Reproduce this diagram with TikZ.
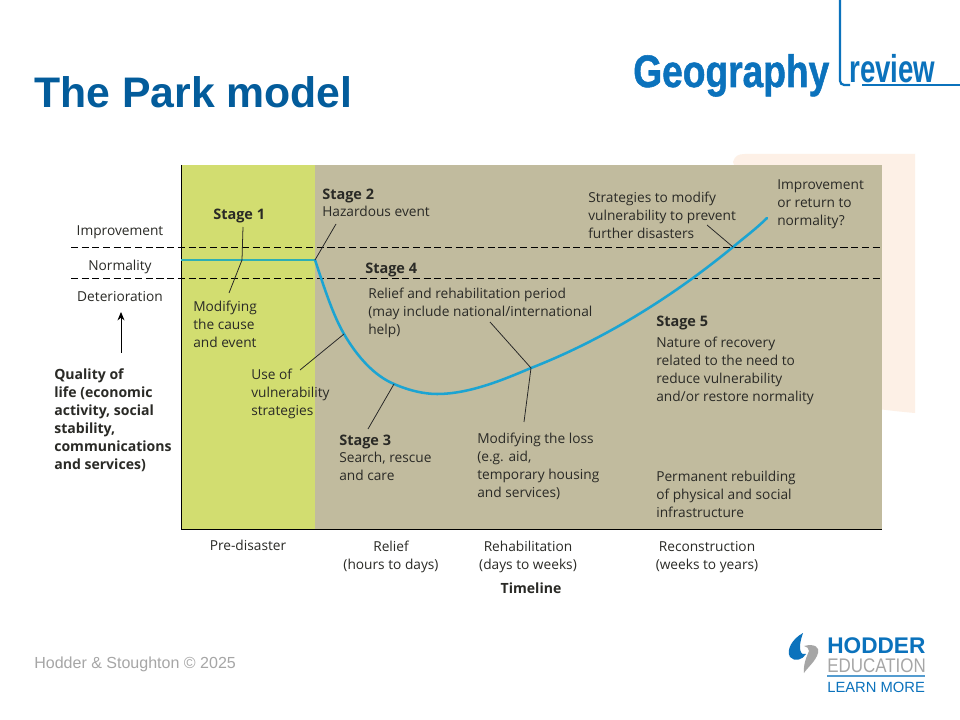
\documentclass[tikz,border=0pt]{standalone}
\usepackage{fontspec}
\setmainfont{Open Sans}
\newfontfamily\arialfont{Liberation Sans}
\newfontfamily\logofont[BoldFont=*,BoldFeatures={FakeBold=1.2}]{Liberation Sans Bold}
\usetikzlibrary{arrows.meta,positioning,calc}
\definecolor{brandblue}{HTML}{0B72BC}
\definecolor{titleblue}{HTML}{035C9B}
\definecolor{beige}{HTML}{C1BB9E}
\definecolor{limegreen}{HTML}{D2DD70}
\definecolor{peach}{HTML}{FDF0E6}
\definecolor{curveblue}{HTML}{1CA4D2}
\definecolor{curveteal}{HTML}{2FAFB4}
\definecolor{inktext}{HTML}{2A2A26}
\definecolor{footgrey}{HTML}{A6A6A6}
\tikzset{
    label/.style={inner sep=0pt, anchor=north west, align=left, text=inktext, font=\fontsize{9.75}{12.8}\selectfont},
    stagehead/.style={label, font=\fontsize{10.3}{12.8}\selectfont\bfseries},
    axislabel/.style={inner sep=0pt, align=center, text=inktext, font=\fontsize{9.75}{12.8}\selectfont},
    leader/.style={draw=black!85, line width=0.55pt},
    guide/.style={draw=black, line width=0.55pt, dash pattern=on 5pt off 2.6pt},
}
\begin{document}
\begin{tikzpicture}[x=0.025cm, y=-0.025cm]
    \useasboundingbox (0,0) rectangle (960,720);
    \fill[white] (0,0) rectangle (960,720);

    % slide heading
    \node (title) [inner sep=0pt, anchor=west, text=titleblue, font=\arialfont\bfseries\fontsize{30.4}{36}\selectfont] at (34,92) {The Park model};
    \node (footer) [inner sep=0pt, anchor=west, text=footgrey, font=\arialfont\fontsize{11.4}{13}\selectfont] at (34,664) {Hodder \& Stoughton © 2025};

    % journal logo
    \node (geo) [inner sep=0pt, anchor=base west, text=brandblue, font=\logofont\bfseries\fontsize{33}{36}\selectfont] at (633,87) {\scalebox{0.80}[0.98]{Geography}};
    \node (rev) [inner sep=0pt, anchor=base west, text=brandblue, font=\arialfont\bfseries\fontsize{24}{28}\selectfont] at (849,83) {\scalebox{0.82}[1.15]{review}};
    \draw[brandblue, line width=1.6pt, rounded corners=3pt] (840,0) -- (840,85) -- (850,85);
    \draw[brandblue, line width=1.6pt] (862,85) -- (960,85);

    % publisher logo
    \fill[brandblue] (803,633) .. controls (792,639) and (786,650) .. (790,657) .. controls (794,662) and (803,660) .. (806,654) .. controls (801,656) and (797,650) .. (803,633) -- cycle;
    \fill[footgrey] (804,646) .. controls (815,643) and (820,648) .. (818,653) .. controls (816,661) and (807,668) .. (804,673) .. controls (803,664) and (807,656) .. (809,651) .. controls (809,648) and (807,647) .. (804,646) -- cycle;
    \node (hodder) [inner sep=0pt, anchor=base west, text=brandblue, font=\arialfont\bfseries\fontsize{16.1}{18}\selectfont] at (827,653) {HODDER};
    \node (edu) [inner sep=0pt, anchor=base west, text=footgrey, font=\arialfont\fontsize{14}{16}\selectfont] at (827,672) {\scalebox{0.86}[1]{EDUCATION}};
    \draw[brandblue!70, line width=1pt] (827,676) -- (925,676);
    \node (learn) [inner sep=0pt, anchor=west, text=brandblue, font=\arialfont\fontsize{10.5}{12}\selectfont] at (827,687) {LEARN MORE};

    % chart panels
    \fill[peach] (733,162) .. controls (735,156) and (738,154) .. (745,154) -- (915,154) -- (915,413) .. controls (880,410) and (850,405) .. (820,400) -- cycle;
    \fill[limegreen] (181,165) rectangle (315,529);
    \fill[beige] (315,165) rectangle (882,529);
    \draw[black, line width=0.7pt] (181,165) -- (181,529) -- (882,529);

    % named points on the curve
    \coordinate (start) at (181,260);
    \coordinate (pc1) at (242,260);
    \coordinate (pc2) at (315,260);
    \coordinate (pc3) at (344,334);
    \coordinate (pc4) at (394,384);
    \coordinate (pc5) at (531,368);
    \coordinate (pc6) at (733,247);
    \coordinate (stop) at (767,218);
    \coordinate (lineL1) at (71,247);
    \coordinate (lineR1) at (882,247);
    \coordinate (lineL2) at (71,278);
    \coordinate (lineR2) at (882,278);

    \draw[guide] (lineL1) -- (lineR1);
    \draw[guide] (lineL2) -- (lineR2);

    % stage texts
    \node (st1) [stagehead] at (213,209) {Stage 1};
    \node (mod) [label] at (193,301) {Modifying\\the cause\\and event};
    \node (st2) [stagehead] at (322,189) {Stage 2};
    \node (haz) [label] at (322,206) {Hazardous event};
    \node (st4) [stagehead] at (365,263) {Stage 4};
    \node (relief) [label] at (368,288) {Relief and rehabilitation period\\(may include national/international\\help)};
    \node (useof) [label] at (251,369) {Use of\\vulnerability\\strategies};
    \node (st3) [stagehead] at (339,435) {Stage 3};
    \node (search) [label] at (339,452) {Search, rescue\\and care};
    \node (loss) [label] at (477,433) {Modifying the loss\\(e.g. aid,\\temporary housing\\and services)};
    \node (st5) [stagehead] at (656,316) {Stage 5};
    \node (nature) [label] at (656,337) {Nature of recovery\\related to the need to\\reduce vulnerability\\and/or restore normality};
    \node (perm) [label] at (656,471) {Permanent rebuilding\\of physical and social\\infrastructure};
    \node (strat) [label] at (588,192) {Strategies to modify\\vulnerability to prevent\\further disasters};
    \node (impr) [label] at (777,179) {Improvement\\or return to\\normality?};

    % side labels
    \node (improve) [axislabel, anchor=base] at (120,236) {Improvement};
    \node (normal) [axislabel, anchor=base] at (120,271) {Normality};
    \node (deter) [axislabel, anchor=base] at (120,302) {Deterioration};
    \node (quality) [label, font=\fontsize{10}{12.9}\selectfont\bfseries] at (54,368) {Quality of\\life (economic\\activity, social\\stability,\\communications\\and services)};
    \coordinate (arrowtop) at (121,312);
    \coordinate (arrowbot) at (121,353);
    \draw[-{Stealth[length=6pt,width=5pt]}, line width=0.6pt] (arrowbot) -- (arrowtop);

    % timeline
    \node (pre) [axislabel, anchor=base] at (248,551) {Pre-disaster};
    \node (rel) [axislabel, anchor=base] at (391,569) {Relief\\(hours to days)};
    \node (reh) [axislabel, anchor=base] at (528,569) {Rehabilitation\\(days to weeks)};
    \node (rec) [axislabel, anchor=base] at (707,569) {Reconstruction\\(weeks to years)};
    \node (time) [axislabel, anchor=base, font=\fontsize{10}{12.8}\selectfont\bfseries] at (531,593) {Timeline};

    % the curve
    \draw[curveteal, line width=1.8pt] (start) -- (pc2);
    \draw[curveblue, line width=1.8pt, line cap=round]
        (pc2) .. controls (325,290) and (333,315) .. (pc3)
        .. controls (358,358) and (375,376) .. (pc4)
        .. controls (410,391) and (425,394) .. (437,394)
        .. controls (470,394) and (505,379) .. (pc5)
        .. controls (590,345) and (660,307) .. (pc6)
        .. controls (745,237) and (757,228) .. (stop);

    % leaders
    \coordinate (a1) at (243,227);
    \draw[leader] (a1) -- (pc1);
    \coordinate (a2) at (229,293);
    \draw[leader] (pc1) -- (a2);
    \coordinate (b1) at (336,224);
    \draw[leader] (b1) -- (pc2);
    \coordinate (c1) at (300,370);
    \draw[leader] (c1) -- (pc3);
    \coordinate (d1) at (368,429);
    \draw[leader] (d1) -- (pc4);
    \coordinate (e1) at (490,322);
    \draw[leader] (e1) -- (pc5);
    \coordinate (f1) at (524,422);
    \draw[leader] (f1) -- (pc5);
    \coordinate (g1) at (707,225);
    \draw[leader] (g1) -- (pc6);
\end{tikzpicture}
\end{document}
